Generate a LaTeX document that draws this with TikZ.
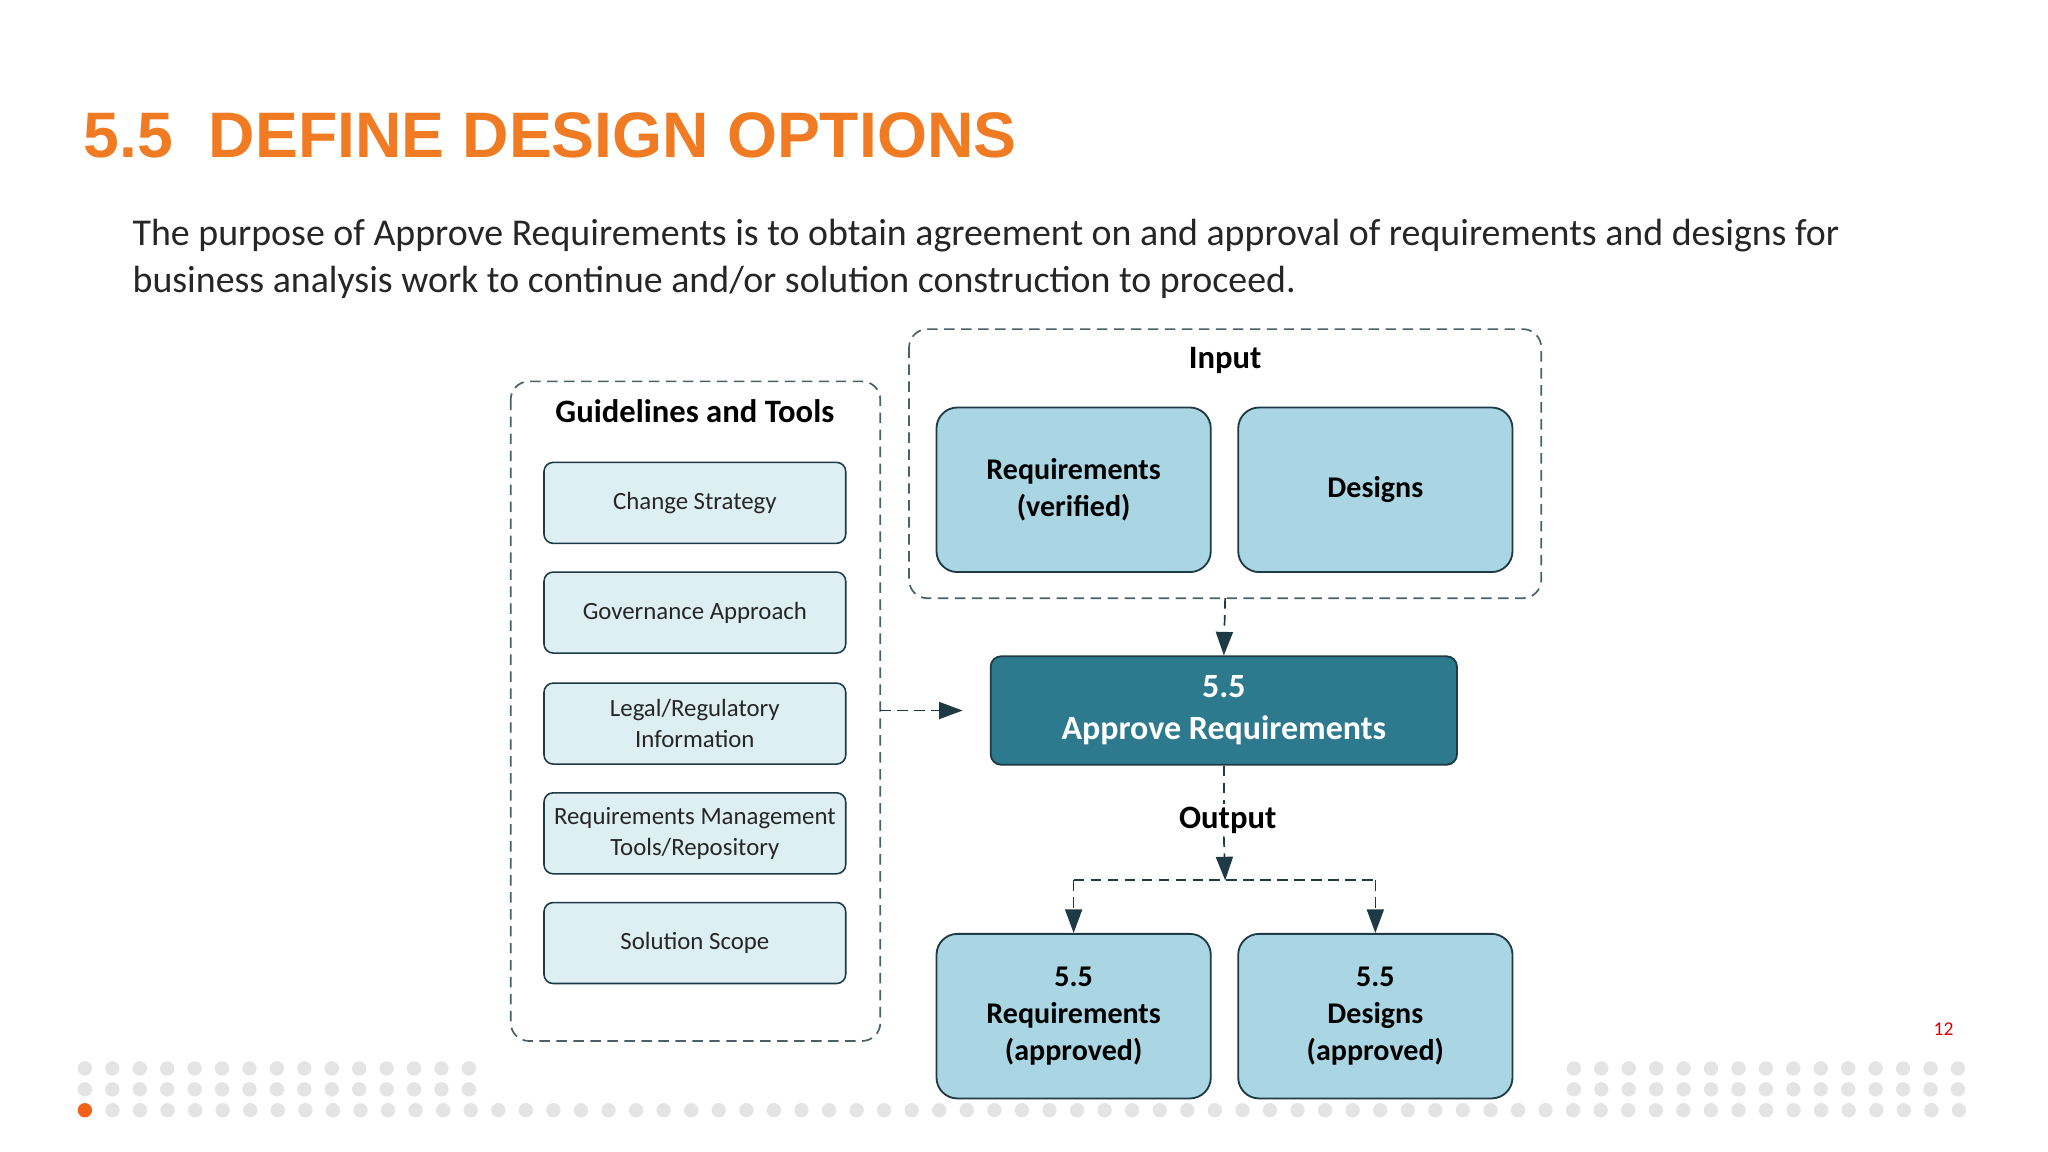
\documentclass[tikz,border=0pt]{standalone}
\usepackage{fontspec}
\usepackage{graphicx}
\setmainfont{Carlito}
\newfontfamily\titlef{Liberation Sans}
\usetikzlibrary{arrows.meta}
\definecolor{orng}{HTML}{F07B22}
\definecolor{lite}{HTML}{DDEFF3}
\definecolor{mid}{HTML}{AAD6E3}
\definecolor{dark}{HTML}{2D7A8F}
\definecolor{edge}{HTML}{1E3A45}
\definecolor{dotc}{HTML}{E4E4E4}
\begin{document}
\begin{tikzpicture}[x=1pt,y=-1pt,
 grp/.style={draw=edge!80,dash pattern=on 8pt off 5pt,line width=1.3pt,rounded corners=14pt},
 tool/.style={draw=edge,line width=1.2pt,fill=lite,rounded corners=7pt,minimum width=231pt,minimum height=62pt,align=center,font=\fontsize{19}{24}\selectfont,text=black!85},
 io/.style={draw=edge,line width=1.4pt,fill=mid,rounded corners=16pt,minimum width=210pt,minimum height=126pt,align=center,font=\fontsize{23}{28}\selectfont\bfseries},
 con/.style={draw=edge,line width=1.3pt,dash pattern=on 8pt off 5pt},
 arr/.style={con,-{Triangle[length=18pt,width=13pt]}},
 lbl/.style={font=\fontsize{25}{28}\selectfont\bfseries}]
\useasboundingbox (0,0) rectangle (1568,882);
\fill[white] (0,0) rectangle (1568,882);
\node[anchor=west,inner sep=0pt,text=orng,font=\titlef\fontsize{44}{50}\selectfont\bfseries] (title) at (64,104) {\resizebox{714pt}{!}{5.5\ \ DEFINE DESIGN OPTIONS}};
\node[anchor=north west,align=left,font=\fontsize{29}{36}\selectfont,text=black!85] (body) at (98,164) {The purpose of Approve Requirements is to obtain agreement on and approval of requirements and designs for\\business analysis work to continue and/or solution construction to proceed.};
% groups
\draw[grp] (391,292) rectangle (674,797);
\node[lbl] (gt) at (532,315) {Guidelines and Tools};
\node[tool] (t1) at (532,385) {Change Strategy};
\node[tool] (t2) at (532,469) {Governance Approach};
\node[tool] (t3) at (532,554) {Legal/Regulatory\\Information};
\node[tool] (t4) at (532,638) {Requirements Management\\Tools/Repository};
\node[tool] (t5) at (532,722) {Solution Scope};
\draw[grp] (696,252) rectangle (1180,458);
\coordinate (inb) at (938,458);
\coordinate (gr) at (674,544);
\coordinate (ga) at (737,544);
\node[lbl] (inl) at (938,276) {Input};
\node[io] (rv) at (822,375) {Requirements\\(verified)};
\node[io] (ds) at (1053,375) {Designs};
\node[draw=edge,line width=1.4pt,fill=dark,rounded corners=8pt,minimum width=357pt,minimum height=83pt,align=center,text=white,font=\fontsize{26}{32}\selectfont\bfseries] (ar) at (937,544) {5.5\\Approve Requirements};
\node[lbl,inner sep=2pt] (out) at (940,628) {Output};
\node[io] (ra) at (822,778) {5.5\\Requirements\\(approved)};
\node[io] (da) at (1053,778) {5.5\\Designs\\(approved)};
\draw[arr] (inb) -- (ar.north);
\draw[arr] (gr) -- (ga);
\coordinate (j) at (938,674);
\draw[con] (ar.south) -- (ar.south|-out.north);
\draw[arr] (ar.south|-out.south) -- (j);
\draw[con] (ra.north|-j) -- (da.north|-j);
\draw[arr] (ra.north|-j) -- (ra.north);
\draw[arr] (da.north|-j) -- (da.north);
% dots
\foreach \i in {0,...,14}{\fill[dotc] (65+21*\i,818) circle (5.5); \fill[dotc] (65+21*\i,834) circle (5.5);}
\foreach \i in {0,...,14}{\fill[dotc] (1205+21*\i,818) circle (5.5); \fill[dotc] (1205+21*\i,834) circle (5.5);}
\foreach \i in {1,...,68}{\fill[dotc] (65+21.1*\i,850) circle (5.5);}
\fill[orng!80!red] (65,850) circle (5.5);
\node[text=red!85!black,font=\fontsize{15}{18}\selectfont] (pg) at (1488,788) {12};
\end{tikzpicture}
\end{document}
